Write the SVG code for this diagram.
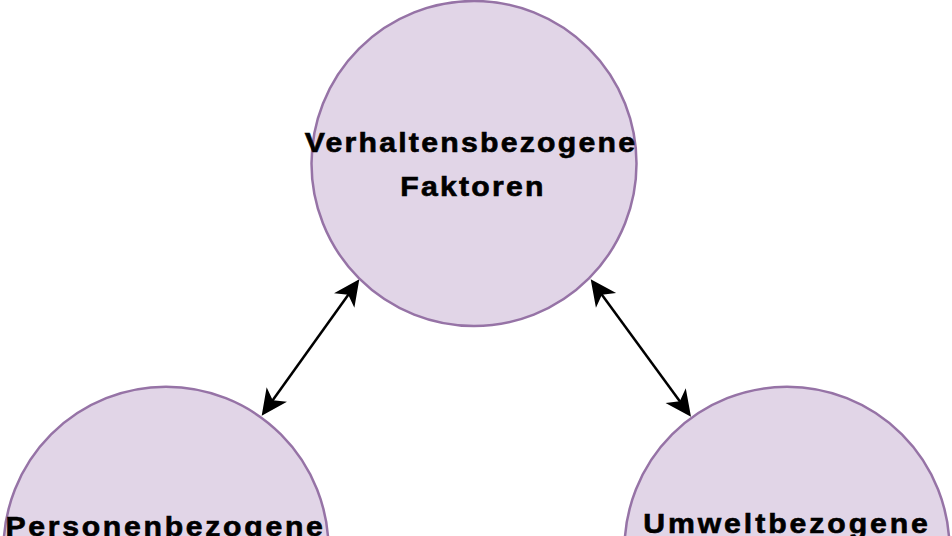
<svg xmlns="http://www.w3.org/2000/svg" width="952" height="536" viewBox="0 0 952 536">
<style>
.node{fill:#e1d5e7;stroke:#9673a6;stroke-width:2.5}
.lbl{font-family:"Liberation Sans",Arial,sans-serif;font-weight:bold;font-size:27px;fill:#000;stroke:#000;stroke-width:0.6;text-anchor:middle;letter-spacing:2px}
.conn{fill:none;stroke:#000;stroke-width:2.5;marker-start:url(#arr);marker-end:url(#arr)}
</style>
<defs>
<marker id="arr" viewBox="0 0 28 28" refX="18" refY="14" markerWidth="28" markerHeight="28" markerUnits="userSpaceOnUse" orient="auto-start-reverse">
<path d="M28,14 L2,1.5 L9,14 L2,26.5 Z" fill="#000"/>
</marker>
</defs>
<rect width="952" height="536" fill="#fff"/>
<g id="connectors">
<path class="conn" d="M353.5,287.4 L267.5,407.6"/>
<path class="conn" d="M596.6,287.4 L685.1,408.6"/>
</g>
<g id="verhalten">
<circle class="node" cx="474" cy="163.5" r="162.5"/>
<text class="lbl" transform="translate(471,0) scale(1.12,1)" x="0" y="152.5">Verhaltensbezogene</text>
<text class="lbl" transform="translate(473,0) scale(1.12,1)" x="0" y="196.5">Faktoren</text>
</g>
<g id="person">
<circle class="node" cx="166" cy="549.3" r="162.5"/>
<text class="lbl" transform="translate(165.5,0) scale(1.12,1)" x="0" y="536" style="letter-spacing:2.4px">Personenbezogene</text>
</g>
<g id="umwelt">
<circle class="node" cx="787" cy="549.3" r="162.5"/>
<text class="lbl" transform="translate(787,0) scale(1.12,1)" x="0" y="533" style="letter-spacing:2.6px">Umweltbezogene</text>
</g>
</svg>
